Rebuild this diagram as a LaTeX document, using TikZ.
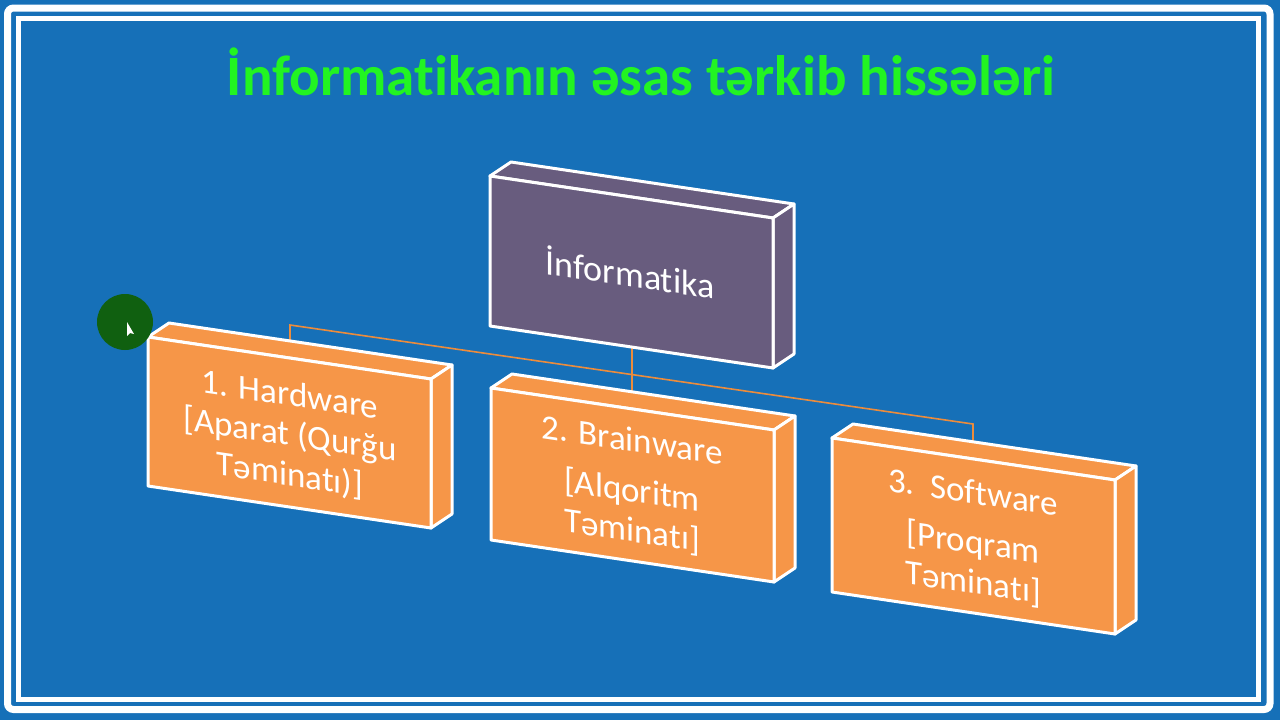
\documentclass[tikz,border=0pt]{standalone}
\usepackage{fontspec}
\setmainfont{Carlito}[Ligatures=NoCommon]
\usetikzlibrary{positioning}

\definecolor{slidebg}{RGB}{22,112,184}
\definecolor{titlegreen}{RGB}{34,244,34}
\definecolor{boxorange}{RGB}{246,150,72}
\definecolor{boxpurple}{RGB}{104,92,126}
\definecolor{linkorange}{RGB}{236,140,60}
\definecolor{cursorgreen}{RGB}{16,96,16}

\tikzset{
  face/.style={draw=white, line width=3pt, line join=round},
  link/.style={draw=linkorange, line width=1.6pt},
  lbl/.style={text=white, align=center, yslant=-0.148,
    font=\fontsize{35}{40}\selectfont},
}

\begin{document}
\begin{tikzpicture}[x=1pt, y=-1pt]

    \useasboundingbox (0,0) rectangle (1280,720);
    \fill[slidebg] (0,0) rectangle (1280,720);

    % frame
    \draw[white, line width=7pt, rounded corners=6pt] (7.5,8) rectangle (1270,709.5);
    \draw[white, line width=5pt] (18.5,18.5) rectangle (1258,699.5);

    \node[text=titlegreen, font=\fontsize{57}{64}\selectfont\bfseries] (title) at (641,72) {İnformatikanın əsas tərkib hissələri};

    % connectors
    \coordinate (info-s) at (632,345);
    \coordinate (hard-n) at (290,341);
    \coordinate (brain-n) at (632,392);
    \coordinate (soft-n) at (973,443);
    \coordinate (bus-w) at (290,325);
    \coordinate (bus-e) at (973,424);
    \draw[link] (hard-n) -- (bus-w) -- (bus-e) -- (soft-n);
    \draw[link] (info-s) -- (brain-n);

    % Informatika
    \filldraw[face, fill=boxpurple] (490,176) -- (511,162) -- (794,204) -- (773,218) -- cycle;
    \filldraw[face, fill=boxpurple] (773,218) -- (794,204) -- (794,354) -- (773,368) -- cycle;
    \filldraw[face, fill=boxpurple] (490,176) -- (773,218) -- (773,368) -- (490,326) -- cycle;
    \node[lbl, font=\fontsize{36}{40}\selectfont] (info) at (630,272) {İnformatika};

    % Hardware
    \filldraw[face, fill=boxorange] (148,337) -- (169,323) -- (452,365) -- (431,379) -- cycle;
    \filldraw[face, fill=boxorange] (431,379) -- (452,365) -- (452,514) -- (431,528) -- cycle;
    \filldraw[face, fill=boxorange] (148,337) -- (431,379) -- (431,528) -- (148,486) -- cycle;
    \node[lbl] (hard) at (290,436) {1. Hardware\\ {[}Aparat (Qurğu\\ Təminatı)]};

    % Brainware
    \filldraw[face, fill=boxorange] (491,388) -- (512,374) -- (795,416) -- (774,430) -- cycle;
    \filldraw[face, fill=boxorange] (774,430) -- (795,416) -- (795,568) -- (774,582) -- cycle;
    \filldraw[face, fill=boxorange] (491,388) -- (774,430) -- (774,582) -- (491,540) -- cycle;
    \node[lbl] (brain) at (632,487) {2. Brainware\\[10pt] {[}Alqoritm\\ Təminatı]};

    % Software
    \filldraw[face, fill=boxorange] (832,438) -- (853,424) -- (1136,466) -- (1115,480) -- cycle;
    \filldraw[face, fill=boxorange] (1115,480) -- (1136,466) -- (1136,620) -- (1115,634) -- cycle;
    \filldraw[face, fill=boxorange] (832,438) -- (1115,480) -- (1115,634) -- (832,592) -- cycle;
    \node[lbl] (soft) at (973,539) {3.\ \ Software\\[10pt] {[}Proqram\\ Təminatı]};

    % cursor
    \fill[cursorgreen] (125,322) circle (28);
    \fill[white] (127,322) -- (127,336) -- (130,333) -- (134,334) -- cycle;

\end{tikzpicture}
\end{document}
